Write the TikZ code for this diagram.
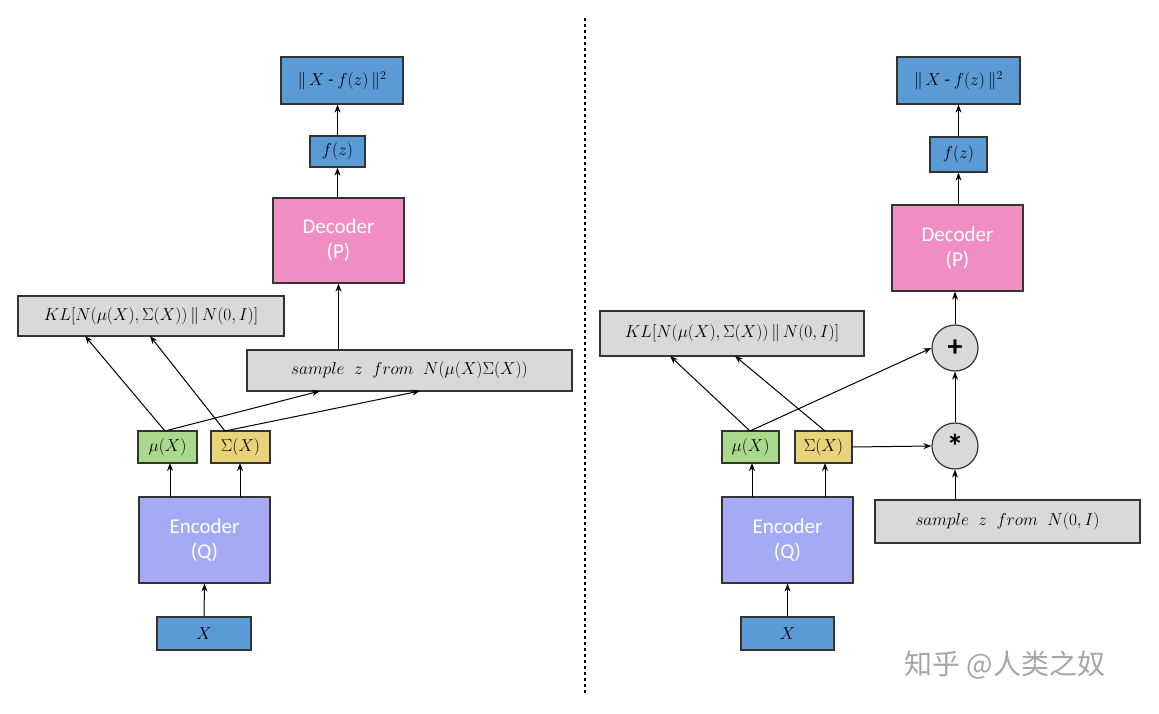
\documentclass[tikz,border=0pt]{standalone}
\usepackage{fontspec}
\setmainfont{Carlito}
\newfontfamily\cjk{Noto Sans CJK SC}
\usetikzlibrary{arrows.meta}
\definecolor{bblue}{HTML}{5B9BD5}
\definecolor{enc}{HTML}{A4ABF4}
\definecolor{dec}{HTML}{F08DC3}
\definecolor{gr}{HTML}{A9D98A}
\definecolor{ye}{HTML}{E8D27A}
\definecolor{gy}{HTML}{D9D9D9}
\begin{document}
\begin{tikzpicture}[x=1pt,y=-1pt,
 box/.style={draw=black!80,line width=1.2pt,inner sep=0pt},
 ar/.style={-{Stealth[length=8pt,width=6pt]},line width=1pt},
 big/.style={font=\fontsize{21}{25}\selectfont,text=white,align=center},
 mt/.style={font=\fontsize{17}{20}\selectfont},
 st/.style={font=\fontsize{19}{22}\selectfont}]
\useasboundingbox (0,0) rectangle (1159,714);
\def\bx#1#2#3#4#5#6{\node[box,fill=#6,minimum width=#3-#1,minimum height=#4-#2] (#5) at ({(#1+#3)/2},{(#2+#4)/2}) {};}
% left
\bx{157}{617}{251}{650}{lx}{bblue}
\bx{139}{497}{270}{583}{le}{enc}
\bx{138}{431}{197}{463}{lm}{gr}
\bx{211}{431}{270}{463}{ls}{ye}
\bx{18}{296}{284}{336}{lk}{gy}
\bx{247}{350}{572}{391}{lsa}{gy}
\bx{273}{198}{404}{283}{ld}{dec}
\bx{310}{136}{365}{167}{lf}{bblue}
\bx{281}{57}{403}{104}{ll}{bblue}
% right
\bx{741}{617}{834}{650}{rx}{bblue}
\bx{722}{497}{853}{583}{re}{enc}
\bx{722}{431}{779}{463}{rm}{gr}
\bx{795}{431}{852}{463}{rs}{ye}
\bx{600}{311}{864}{356}{rk}{gy}
\bx{875}{500}{1140}{543}{rsa}{gy}
\bx{892}{205}{1023}{291}{rd}{dec}
\bx{930}{137}{987}{172}{rf}{bblue}
\bx{897}{57}{1020}{104}{rl}{bblue}
\node[circle,draw=black!80,line width=1.2pt,fill=gy,minimum size=46pt,inner sep=0pt,font=\fontsize{30}{30}\selectfont\bfseries] (plus) at (955,348) {+};
\node[circle,draw=black!80,line width=1.2pt,fill=gy,minimum size=46pt,inner sep=0pt,font=\fontsize{34}{30}\selectfont\bfseries] (star) at (955,446) {\raisebox{-8pt}{*}};
% texts
\foreach \n in {lx,rx}{\node[mt] at (\n) {$X$};}
\foreach \n in {le,re}{\node[big] at (\n) {Encoder\\(Q)};}
\foreach \n in {ld,rd}{\node[big] at (\n) {Decoder\\(P)};}
\foreach \n in {lm,rm}{\node[mt] at (\n) {$\mu(X)$};}
\foreach \n in {ls,rs}{\node[mt] at (\n) {$\Sigma(X)$};}
\foreach \n in {lk,rk}{\node[mt] at (\n) {$KL[N(\mu(X),\Sigma(X))\,\|\,N(0,I)]$};}
\foreach \n in {lf,rf}{\node[mt] at (\n) {$f(z)$};}
\foreach \n in {ll,rl}{\node[mt] at (\n) {$\|\,X$ - $f(z)\,\|^2$};}
\node[st] at (lsa) {$sample\;\;z\;\;from\;\;N(\mu(X)\Sigma(X))$};
\node[st] at (rsa) {$sample\;\;z\;\;from\;\;N(0,I)$};
% left arrows
\draw[ar] (lx.north) -- (le.south);
\draw[ar] (170,497) -- (170,463);
\draw[ar] (240,497) -- (240,463);
\coordinate (lmt) at (165,431); \coordinate (lst) at (225,431);
\draw[ar] (lmt) -- (85,336);
\draw[ar] (lmt) -- (320,391);
\draw[ar] (lst) -- (150,336);
\draw[ar] (lst) -- (420,391);
\draw[ar] (lsa.north -| ld) -- (ld.south);
\draw[ar] (ld.north -| lf) -- (lf.south);
\draw[ar] (lf.north) -- (ll.south -| lf);
% right arrows
\draw[ar] (rx.north) -- (re.south);
\draw[ar] (752,497) -- (752,463);
\draw[ar] (825,497) -- (825,463);
\coordinate (rmt) at (750,431); \coordinate (rst) at (825,431);
\draw[ar] (rmt) -- (670,356);
\draw[ar] (rmt) -- (plus.west);
\draw[ar] (rst) -- (735,356);
\draw[ar] (rs.east) -- (star.west);
\draw[ar] (rsa.north -| star) -- (star.south);
\draw[ar] (star.north) -- (plus.south);
\draw[ar] (plus.north) -- (rd.south -| plus);
\draw[ar] (rd.north -| rf) -- (rf.south);
\draw[ar] (rf.north) -- (rl.south -| rf);
\draw[dashed,line width=1.2pt] (585,18) -- (585,695);
\node[font=\cjk\fontsize{28}{30}\selectfont,text=black!35] at (1005,665) {知乎 @人类之奴};
\end{tikzpicture}
\end{document}
